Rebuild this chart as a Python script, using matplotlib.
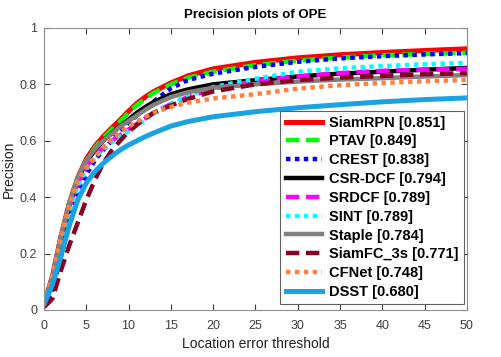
import matplotlib
matplotlib.use("Agg")
import matplotlib.pyplot as plt

thresholds = [0, 1, 2, 3, 4, 5, 6, 7, 8, 9, 10, 11, 12, 13, 15, 17, 20, 25, 30, 35, 40, 45, 50]

names = ["SiamRPN [0.851]", "PTAV [0.849]", "CREST [0.838]", "CSR-DCF [0.794]",
         "SRDCF [0.789]", "SINT [0.789]", "Staple [0.784]", "SiamFC_3s [0.771]",
         "CFNet [0.748]", "DSST [0.680]"]

siamrpn = [0.02, 0.12, 0.26, 0.38, 0.47, 0.535, 0.58, 0.615, 0.645, 0.674, 0.705, 0.733, 0.756, 0.775, 0.805, 0.83, 0.855, 0.878, 0.894, 0.905, 0.913, 0.920, 0.926]
ptav    = [0.02, 0.12, 0.26, 0.38, 0.47, 0.53, 0.575, 0.61, 0.64, 0.668, 0.70, 0.727, 0.75, 0.77, 0.80, 0.823, 0.845, 0.868, 0.884, 0.895, 0.903, 0.908, 0.912]
crest   = [0.01, 0.07, 0.19, 0.31, 0.41, 0.48, 0.53, 0.567, 0.60, 0.635, 0.665, 0.69, 0.715, 0.74, 0.786, 0.815, 0.838, 0.862, 0.880, 0.892, 0.900, 0.906, 0.911]
csrdcf  = [0.02, 0.11, 0.25, 0.37, 0.46, 0.525, 0.565, 0.60, 0.627, 0.652, 0.675, 0.70, 0.72, 0.738, 0.765, 0.782, 0.80, 0.815, 0.828, 0.838, 0.845, 0.852, 0.858]
srdcf   = [0.02, 0.12, 0.26, 0.37, 0.45, 0.51, 0.545, 0.575, 0.60, 0.62, 0.64, 0.66, 0.68, 0.70, 0.73, 0.755, 0.785, 0.812, 0.828, 0.840, 0.848, 0.852, 0.855]
sint    = [0.02, 0.10, 0.23, 0.35, 0.44, 0.50, 0.54, 0.57, 0.595, 0.615, 0.635, 0.655, 0.675, 0.697, 0.73, 0.76, 0.79, 0.82, 0.845, 0.857, 0.865, 0.871, 0.876]
staple  = [0.02, 0.12, 0.26, 0.38, 0.47, 0.53, 0.57, 0.60, 0.625, 0.65, 0.67, 0.69, 0.71, 0.728, 0.755, 0.772, 0.788, 0.80, 0.81, 0.817, 0.822, 0.828, 0.833]
siamfc  = [0.01, 0.04, 0.14, 0.23, 0.31, 0.39, 0.46, 0.52, 0.565, 0.60, 0.632, 0.657, 0.68, 0.70, 0.725, 0.748, 0.775, 0.80, 0.815, 0.824, 0.830, 0.836, 0.840]
cfnet   = [0.02, 0.12, 0.26, 0.37, 0.46, 0.505, 0.54, 0.575, 0.605, 0.63, 0.65, 0.668, 0.685, 0.70, 0.72, 0.735, 0.75, 0.765, 0.785, 0.797, 0.805, 0.811, 0.816]
dsst    = [0.02, 0.09, 0.19, 0.30, 0.39, 0.45, 0.49, 0.52, 0.545, 0.567, 0.585, 0.60, 0.615, 0.628, 0.652, 0.668, 0.685, 0.703, 0.717, 0.728, 0.738, 0.746, 0.752]

series = [siamrpn, ptav, crest, csrdcf, srdcf, sint, staple, siamfc, cfnet, dsst]
colors = ["#ff0000", "#00ff00", "#0000ff", "#000000", "#ff00ff", "#00ffff",
          "#808080", "#880022", "#ff8040", "#1aa3e0"]
styles = ["-", (0, (3, 1.5)), (0, (1, 1)), "-", (0, (3, 1.5)), (0, (1, 1)),
          "-", (0, (3, 1.5)), (0, (1, 1)), "-"]
widths = [3.6, 3.2, 3.2, 3.2, 3.2, 3.2, 3.2, 3.2, 3.2, 3.6]

plt.rcParams['font.family'] = ['Liberation Sans', 'DejaVu Sans']

fig = plt.figure(figsize=(5.01, 3.57), dpi=100)
ax = fig.add_axes([0.0878, 0.1317, 0.844, 0.790])

for vals, name, c, ls, lw in zip(series, names, colors, styles, widths):
    ax.plot(thresholds, vals, color=c, linestyle=ls, linewidth=lw, label=name)

ax.set_xlim(0, 50)
ax.set_ylim(0, 1)
ax.set_xticks([0, 5, 10, 15, 20, 25, 30, 35, 40, 45, 50])
ax.set_yticks([0, 0.2, 0.4, 0.6, 0.8, 1])
ax.set_yticklabels(["0", "0.2", "0.4", "0.6", "0.8", "1"])
ax.tick_params(direction='in', top=True, right=True, labelsize=9,
               colors='#404040', length=4, width=0.8)
ax.tick_params(axis='x', pad=7)
ax.tick_params(axis='y', pad=5)
for s in ax.spines.values():
    s.set_color('#909090')
    s.set_linewidth(0.8)

ax.set_title("Precision plots of OPE", fontsize=9.5, fontweight='bold', pad=7)
ax.set_xlabel("Location error threshold", fontsize=10, color='#202020', labelpad=4)
ax.set_ylabel("Precision", fontsize=10, color='#202020', labelpad=3)

leg = ax.legend(loc='lower right', bbox_to_anchor=(0.993, 0.021), borderaxespad=0,
                prop={'weight': 'bold', 'size': 10.5}, handlelength=2.5,
                labelspacing=0.33, handletextpad=0.5, borderpad=0.35,
                fancybox=False, framealpha=1, edgecolor='#606060')
leg.get_frame().set_linewidth(0.8)

fig.savefig("out.png", dpi=100)
